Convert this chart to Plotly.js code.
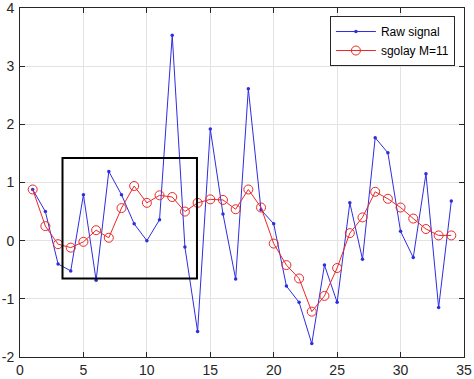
<!DOCTYPE html>
<html>
<head>
<meta charset="utf-8">
<script src="https://cdn.plot.ly/plotly-3.0.1.min.js"></script>
<style>html,body{margin:0;padding:0;background:#fff;}#chart{width:474px;height:379px;}</style>
</head>
<body>
<div id="chart"></div>
<script>
const sampleIndex = [1,2,3,4,5,6,7,8,9,10,11,12,13,14,15,16,17,18,19,20,21,22,23,24,25,26,27,28,29,30,31,32,33,34];
const rawSignal = [0.88,0.50,-0.40,-0.52,0.79,-0.68,1.19,0.79,0.29,0.00,0.36,3.53,-0.11,-1.56,1.92,0.46,-0.66,2.61,0.53,0.29,-0.78,-1.06,-1.77,-0.42,-1.06,0.65,-0.32,1.77,1.51,0.16,-0.29,1.15,-1.15,0.68];
const sgolaySignal = [0.88,0.25,-0.06,-0.12,-0.02,0.18,0.05,0.56,0.94,0.65,0.78,0.75,0.50,0.65,0.71,0.70,0.54,0.88,0.57,-0.05,-0.42,-0.65,-1.22,-0.95,-0.47,0.13,0.40,0.84,0.72,0.57,0.38,0.20,0.09,0.09];
const seriesNames = ["Raw signal", "sgolay M=11"];
const xTickVals = [0,5,10,15,20,25,30,35];
const xTickText = ["0","5","10","15","20","25","30","35"];
const yTickVals = [-2,-1,0,1,2,3,4];
const yTickText = ["-2","-1","0","1","2","3","4"];
const boxX = [3.35, 13.95];
const boxY = [-0.65, 1.42];

const traces = [
  {x: sampleIndex, y: rawSignal, name: seriesNames[0], type: 'scatter', mode: 'lines+markers',
   line: {color: 'rgb(45,45,225)', width: 1}, marker: {color: 'rgb(45,45,225)', size: 3.5}},
  {x: sampleIndex, y: sgolaySignal, name: seriesNames[1], type: 'scatter', mode: 'lines+markers',
   line: {color: 'rgb(235,40,40)', width: 1}, marker: {color: 'rgb(235,40,40)', size: 9, symbol: 'circle-open', line: {width: 1}}}
];

const axisCommon = {
  showline: true, linecolor: '#262626', linewidth: 1, mirror: 'ticks',
  ticks: 'inside', ticklen: 5, tickcolor: '#262626', tickwidth: 1,
  showgrid: true, gridcolor: '#e3e3e3', gridwidth: 1, zeroline: false,
  ticklabeloverflow: 'allow',
  tickfont: {family: 'Liberation Sans, Arial, sans-serif', size: 14, color: '#262626'}
};

const layout = {
  width: 474, height: 379,
  margin: {l: 19.5, r: 9.5, t: 7.5, b: 21.5},
  paper_bgcolor: '#fff', plot_bgcolor: '#fff',
  showlegend: true,
  xaxis: Object.assign({}, axisCommon, {range: [0, 35], tickmode: 'array', tickvals: xTickVals, ticktext: xTickText}),
  yaxis: Object.assign({}, axisCommon, {range: [-2, 4], tickmode: 'array', tickvals: yTickVals, ticktext: yTickText, ticklabelstandoff: 2}),
  legend: {x: 0.698, y: 0.977, xanchor: 'left', yanchor: 'top', bgcolor: '#fff', bordercolor: '#262626', borderwidth: 1,
           font: {family: 'Liberation Sans, Arial, sans-serif', size: 12, color: '#000'}, itemwidth: 40, tracegroupgap: 0},
  shapes: [{type: 'rect', xref: 'x', yref: 'y', x0: boxX[0], x1: boxX[1], y0: boxY[0], y1: boxY[1],
            line: {color: '#000', width: 2}, fillcolor: 'rgba(0,0,0,0)'}]
};

Plotly.newPlot('chart', traces, layout, {displayModeBar: false, staticPlot: true});
</script>
</body>
</html>
